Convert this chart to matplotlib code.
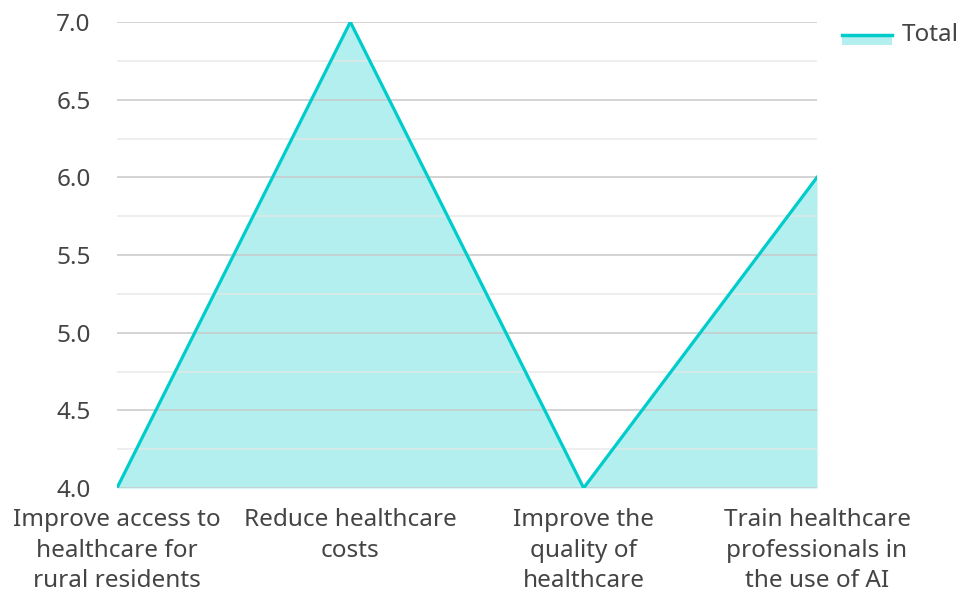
import matplotlib
matplotlib.use("Agg")
import matplotlib.pyplot as plt
from matplotlib.patches import Rectangle
from matplotlib.lines import Line2D
import numpy as np

categories = ["Improve access to\nhealthcare for\nrural residents",
              "Reduce healthcare\ncosts",
              "Improve the\nquality of\nhealthcare",
              "Train healthcare\nprofessionals in\nthe use of AI"]
values = [4, 7, 4, 6]
series_name = "Total"
yticks = [4.0, 4.5, 5.0, 5.5, 6.0, 6.5, 7.0]

LINE = "#00cccc"
FILL = "#b2efee"
TXT = "#444444"
FS = 17.5

plt.rcParams['font.family'] = ['Noto Sans', 'DejaVu Sans']

fig = plt.figure(figsize=(9.58, 5.94), dpi=100)
ax = fig.add_axes([117/958, 1-488/594, 700/958, 466/594])

x = np.arange(len(categories))
ax.fill_between(x, 4.0, values, color=FILL, linewidth=0, zorder=1)
ax.plot(x, values, color=LINE, linewidth=2.3, zorder=3)

ax.set_xlim(0, len(categories)-1)
ax.set_ylim(4.0, 7.0)
ax.set_yticks(yticks)
ax.set_yticklabels([f"{v:.1f}" for v in yticks])
for v in yticks:
    ax.axhline(v, color="#c8c8c8", linewidth=1.2, zorder=2, alpha=0.9)
for v in np.arange(4.25, 7.0, 0.5):
    ax.axhline(v, color="#e6e6e6", linewidth=1.2, zorder=2, alpha=0.8)

ax.set_xticks(x)
ax.set_xticklabels(categories, linespacing=1.36)
ax.tick_params(axis='both', length=0, labelsize=FS, colors=TXT)
ax.tick_params(axis='y', pad=19)
ax.tick_params(axis='x', pad=14.5)
for s in ax.spines.values():
    s.set_visible(False)

# legend
fig.patches.append(Rectangle((842/958, 1-45/594), 50/958, 11/594,
                             transform=fig.transFigure, facecolor=FILL, edgecolor='none'))
fig.lines.append(Line2D([842/958, 892/958], [1-34.5/594, 1-34.5/594],
                        transform=fig.transFigure, color=LINE, linewidth=2.5))
fig.text(902/958, 1-35/594, series_name, fontsize=FS, color=TXT, va='center', ha='left')

fig.savefig("out.png", dpi=100)
